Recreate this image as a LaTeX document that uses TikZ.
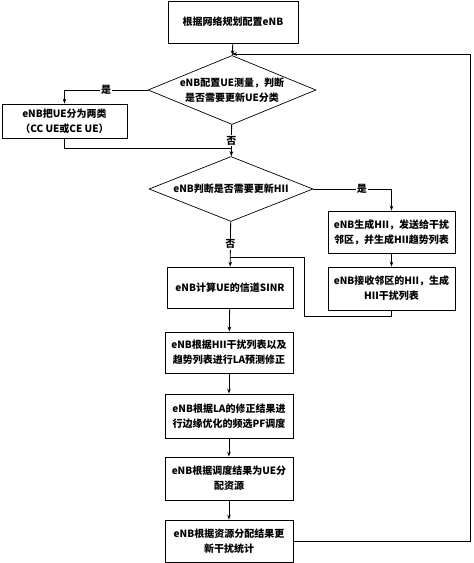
\documentclass[tikz,border=0pt]{standalone}
\usepackage{fontspec}
\setmainfont{Noto Sans CJK SC}
\usepackage{tikz}
\usetikzlibrary{calc}
\usetikzlibrary{positioning}
\usetikzlibrary{shapes.geometric}
\usetikzlibrary{arrows.meta}

\tikzset{
	procbox/.style={draw, line width=0.8pt, align=center, inner sep=2pt, font=\fontsize{10}{15}\selectfont\bfseries},
	decbox/.style={draw, diamond, line width=0.7pt, align=center, inner xsep=-30pt, inner ysep=0pt, font=\fontsize{10}{15}\selectfont\bfseries},
	flow/.style={line width=0.8pt},
	ans/.style={fill=white, inner sep=1pt, font=\fontsize{10}{12}\selectfont\bfseries}
}

\begin{document}
\begin{tikzpicture}[x=1pt, y=-1pt, >={Stealth[length=5pt,width=3.6pt]}]
	
	\useasboundingbox (0,0) rectangle (474,563);
	
	% main column
	\node [procbox, minimum width=130pt, minimum height=42pt] (cfg) at (233,22) {根据网络规划配置eNB};
	\node [decbox, minimum width=168pt, minimum height=55pt] (askue) at (232,90) {eNB配置UE测量，判断\\是否需要更新UE分类};
	\node [procbox, minimum width=125pt, minimum height=34pt] (split) at (64.5,121) {eNB把UE分为两类\\（CC UE或CE UE）};
	\node [decbox, minimum width=164pt, minimum height=46pt] (askhii) at (231,189) {eNB判断是否需要更新HII};
	
	\node [procbox, minimum width=127pt, minimum height=42pt] (genhii) at (391.5,232) {eNB生成HII，发送给干扰\\邻区，并生成HII趋势列表};
	\node [procbox, minimum width=127pt, minimum height=43pt] (rcvhii) at (391.5,288.5) {eNB接收邻区的HII，生成\\HII干扰列表};
	
	\node [procbox, minimum width=126pt, minimum height=41pt] (sinr) at (230,287.5) {eNB计算UE的信道SINR};
	\node [procbox, minimum width=128pt, minimum height=41pt] (lafix) at (229,352.5) {eNB根据HII干扰列表以及\\趋势列表进行LA预测修正};
	\node [procbox, minimum width=128pt, minimum height=44pt] (sched) at (229,416) {eNB根据LA的修正结果进\\行边缘优化的频选PF调度};
	\node [procbox, minimum width=128pt, minimum height=43pt] (alloc) at (229,478.5) {eNB根据调度结果为UE分\\配资源};
	\node [procbox, minimum width=128pt, minimum height=42pt] (stat) at (229,541) {eNB根据资源分配结果更\\新干扰统计};
	
	% junctions
	\coordinate (back) at (232,54);
	\coordinate (edge) at (470,54);
	\coordinate (joinue) at (231,148);
	\coordinate (joinhii) at (230,257);
	\coordinate (bend) at (304,316);
	
	\draw [flow] [->] (cfg) -- (askue);
	\draw [flow] [->] (askue.west) -- node[ans] {是} (askue.west -| split.north) -- (split.north);
	\draw [flow] [->] (askue) -- node[ans] {否} (askhii);
	\draw [flow] (split.south) |- (joinue);
	
	\draw [flow] [->] (askhii.east) -- node[ans, pos=0.62] {是} (askhii.east -| genhii.north) -- (genhii.north);
	\draw [flow] [->] (genhii) -- (rcvhii);
	\draw [flow] (rcvhii.south) |- (bend) |- (joinhii);
	\draw [flow] [->] (askhii) -- node[ans] {否} (sinr);
	
	\draw [flow] [->] (sinr) -- (lafix);
	\draw [flow] [->] (lafix) -- (sched);
	\draw [flow] [->] (sched) -- (alloc);
	\draw [flow] [->] (alloc) -- (stat);
	
	\draw [flow] [->] (stat.east) -| (edge) -- (back);
	
\end{tikzpicture}
\end{document}
